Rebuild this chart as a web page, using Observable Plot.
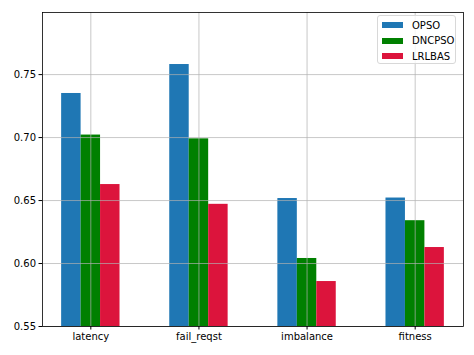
<!DOCTYPE html>
<html>
<head>
<meta charset="utf-8">
<script src="https://cdn.jsdelivr.net/npm/d3@7"></script>
<script src="https://cdn.jsdelivr.net/npm/@observablehq/plot@0.6"></script>
<style>
  html, body { margin: 0; padding: 0; background: #fff; }
  #wrap { position: relative; width: 474px; height: 355px; font-family: "DejaVu Sans", sans-serif; }
  #legend { position: absolute; left: 377px; top: 15px; width: 79px; height: 49px;
    border: 1px solid #d8d8d8; border-radius: 3px; background: rgba(255,255,255,0.8);
    font-size: 10px; color: #000; box-sizing: border-box; }
  .row { position: absolute; left: 4px; height: 12px; display: flex; align-items: center; }
  .sw { width: 21px; height: 6px; margin-right: 9px; }
</style>
</head>
<body>
<div id="wrap"></div>
<script>
const categories = ["latency", "fail_reqst", "imbalance", "fitness"];
const series = ["OPSO", "DNCPSO", "LRLBAS"];
const colors = ["#1f77b4", "green", "crimson"];
const opso = [0.735, 0.758, 0.6516, 0.652];
const dncpso = [0.702, 0.699, 0.604, 0.634];
const lrlbas = [0.6627, 0.647, 0.5857, 0.6127];
const yTicks = [0.55, 0.60, 0.65, 0.70, 0.75];
const barWidth = 0.18;

const values = [opso, dncpso, lrlbas];
const data = [];
categories.forEach((c, i) => {
  series.forEach((s, j) => {
    const center = i + (j - 1) * barWidth;
    data.push({category: c, series: s, x1: center - barWidth / 2, x2: center + barWidth / 2, value: values[j][i]});
  });
});

const chart = Plot.plot({
  width: 474,
  height: 355,
  marginLeft: 42,
  marginRight: 11,
  marginTop: 12,
  marginBottom: 29,
  style: {fontFamily: "DejaVu Sans, sans-serif", fontSize: "10px", color: "#000", background: "#fff"},
  x: {type: "linear", domain: [-0.447, 3.447]},
  y: {domain: [0.55, 0.7993]},
  color: {domain: series, range: colors},
  marks: [
    Plot.rectY(data, {x1: "x1", x2: "x2", y: "value", fill: "series", clip: true}),
    Plot.gridX([0, 1, 2, 3], {stroke: "#b0b0b0", strokeOpacity: 1, strokeWidth: 0.7}),
    Plot.gridY(yTicks, {stroke: "#b0b0b0", strokeOpacity: 1, strokeWidth: 0.7}),
    Plot.axisY(yTicks, {tickSize: 3.5, tickPadding: 3, tickFormat: d3.format(".2f"), label: null, fill: "#000"}),
    Plot.axisX([0, 1, 2, 3], {tickSize: 3.5, tickPadding: 3, tickFormat: i => categories[i], label: null, fill: "#000"}),
    Plot.frame({stroke: "#000", strokeWidth: 0.8})
  ]
});
const wrap = document.getElementById("wrap");
wrap.appendChild(chart);

const legend = document.createElement("div");
legend.id = "legend";
series.forEach((s, j) => {
  const row = document.createElement("div");
  row.className = "row";
  row.style.top = (3 + j * 15.5) + "px";
  const sw = document.createElement("span");
  sw.className = "sw";
  sw.style.background = colors[j];
  const t = document.createElement("span");
  t.textContent = s;
  row.appendChild(sw);
  row.appendChild(t);
  legend.appendChild(row);
});
wrap.appendChild(legend);
</script>
</body>
</html>
